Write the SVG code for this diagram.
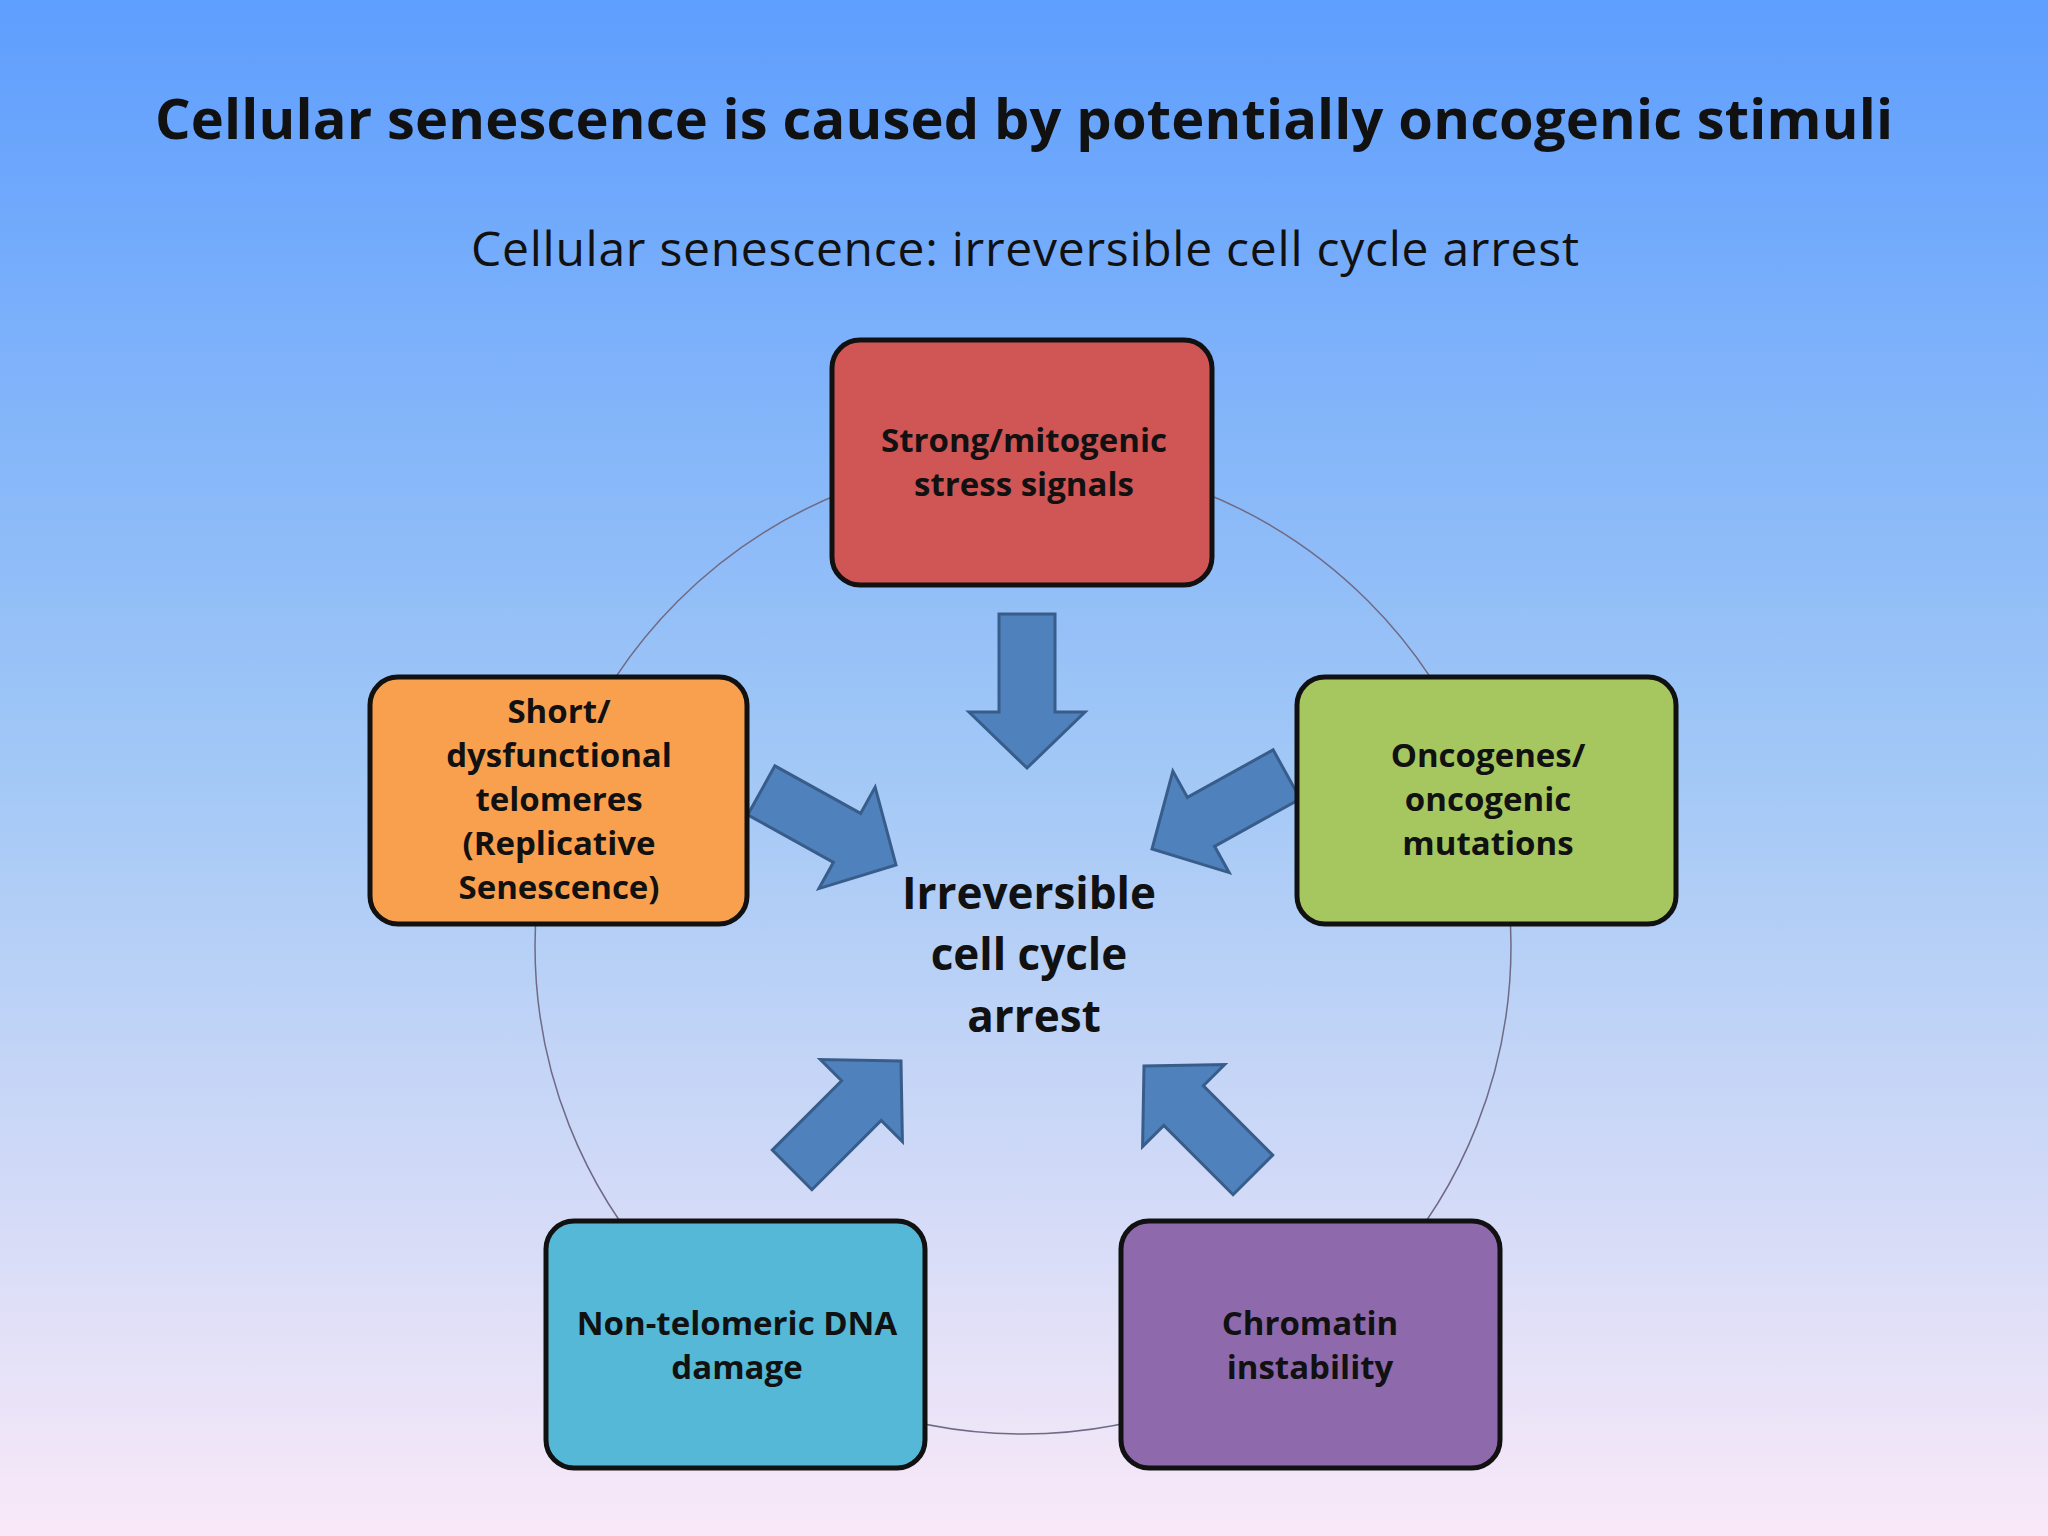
<svg xmlns="http://www.w3.org/2000/svg" width="2048" height="1536" viewBox="0 0 2048 1536">
<defs>
<linearGradient id="bg" x1="0" y1="0" x2="0" y2="1">
<stop offset="0" stop-color="#5e9efe"/>
<stop offset="0.5" stop-color="#a2c8f6"/>
<stop offset="1" stop-color="#f9e9f8"/>
</linearGradient>
<path id="arr" d="M -28 -154 L 28 -154 L 28 -56 L 58 -56 L 0 0 L -58 -56 L -28 -56 Z"/>
</defs>
<style>
.box{stroke:#111;stroke-width:5}
.t{font-family:"Open Sans","DejaVu Sans",sans-serif;font-weight:bold;font-size:33px;fill:#111;text-anchor:middle}
.a{fill:#4f81bd;stroke:#385d8a;stroke-width:3}
</style>
<rect width="2048" height="1536" fill="url(#bg)"/>
<text x="1024" y="139" font-family="Open Sans, sans-serif" font-weight="bold" font-size="56" text-anchor="middle" textLength="1738" fill="#111">Cellular senescence is caused by potentially oncogenic stimuli</text>
<text x="1025" y="266" font-family="Open Sans, sans-serif" font-size="48" text-anchor="middle" textLength="1108" fill="#111">Cellular senescence: irreversible cell cycle arrest</text>
<g id="connectors">
<circle cx="1023" cy="946" r="488" fill="none" stroke="#6f6a85" stroke-width="1.5"/>
<use href="#arr" class="a" transform="translate(1027,768)"/>
<use href="#arr" class="a" transform="translate(896,865) rotate(-61)"/>
<use href="#arr" class="a" transform="translate(1152,849) rotate(61)"/>
<use href="#arr" class="a" transform="translate(901,1061) rotate(-135)"/>
<use href="#arr" class="a" transform="translate(1144,1066) rotate(135)"/>
</g>
<g id="center">
<text class="t" style="font-size:44px" x="1029" y="909">Irreversible</text>
<text class="t" style="font-size:44px" x="1029" y="970">cell cycle</text>
<text class="t" style="font-size:44px" x="1034" y="1032">arrest</text>
</g>
<g id="strong"><rect class="box" x="832" y="340" width="380" height="245" rx="28" fill="#d05555"/>
<text class="t" x="1024" y="452">Strong/mitogenic</text><text class="t" x="1024" y="496">stress signals</text></g>
<g id="telomeres"><rect class="box" x="370" y="677" width="377" height="247" rx="28" fill="#f9a04e"/>
<text class="t" x="559" y="723">Short/</text><text class="t" x="559" y="767">dysfunctional</text><text class="t" x="559" y="811">telomeres</text><text class="t" x="559" y="855">(Replicative</text><text class="t" x="559" y="899">Senescence)</text></g>
<g id="oncogenes"><rect class="box" x="1297" y="677" width="379" height="247" rx="28" fill="#a6c760"/>
<text class="t" x="1488" y="767">Oncogenes/</text><text class="t" x="1488" y="811">oncogenic</text><text class="t" x="1488" y="855">mutations</text></g>
<g id="dna"><rect class="box" x="546" y="1221" width="379" height="247" rx="28" fill="#55b8d6"/>
<text class="t" x="737" y="1335">Non-telomeric DNA</text><text class="t" x="737" y="1379">damage</text></g>
<g id="chromatin"><rect class="box" x="1121" y="1221" width="379" height="247" rx="28" fill="#8e6aad"/>
<text class="t" x="1310" y="1335">Chromatin</text><text class="t" x="1310" y="1379">instability</text></g>
</svg>
